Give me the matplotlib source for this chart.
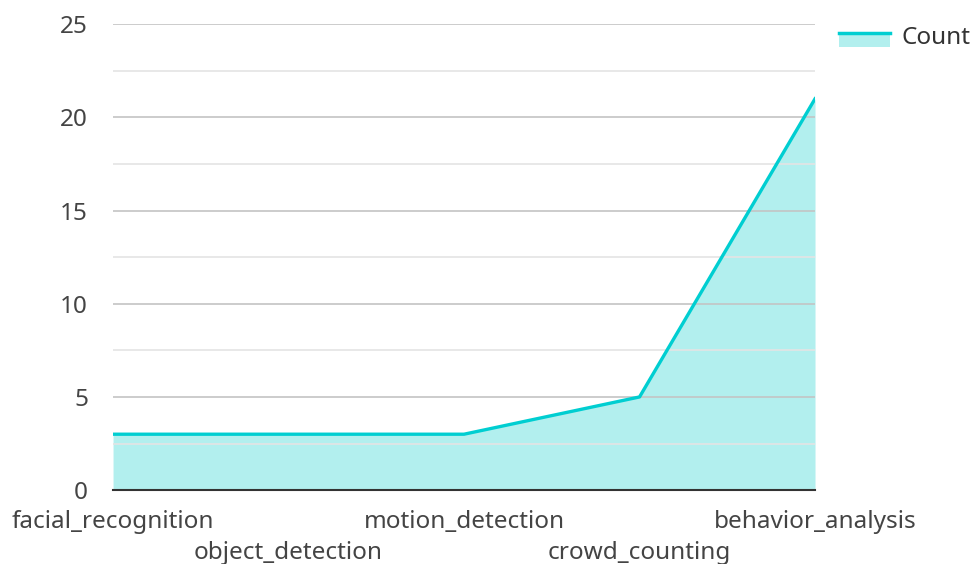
import matplotlib
matplotlib.use("Agg")
import matplotlib.pyplot as plt
from matplotlib.patches import Rectangle
from matplotlib.lines import Line2D
from matplotlib.legend_handler import HandlerBase

plt.rcParams['font.family'] = ['Noto Sans', 'DejaVu Sans']

categories = ['facial_recognition', 'object_detection', 'motion_detection',
              'crowd_counting', 'behavior_analysis']
counts = [3, 3, 3, 5, 21]

line_color = '#00CED1'
fill_color = '#B2EFEE'


class AreaHandler(HandlerBase):
    # filled box with the line along its top edge
    def create_artists(self, legend, orig_handle, xdescent, ydescent,
                       width, height, fontsize, trans):
        bottom = -ydescent - height * 0.15
        top = -ydescent + height * 0.62
        rect = Rectangle((-xdescent, bottom), width, top - bottom,
                         facecolor=fill_color, edgecolor='none', transform=trans)
        ln = Line2D([-xdescent, -xdescent + width], [top, top],
                    color=line_color, lw=2.5, transform=trans)
        return [rect, ln]


fig, ax = plt.subplots(figsize=(9.72, 5.64), dpi=100)
fig.subplots_adjust(left=0.1163, right=0.8385, top=0.957, bottom=0.131)

x = list(range(len(categories)))
ax.fill_between(x, counts, 0, color=fill_color, lw=0, zorder=1)
ax.plot(x, counts, color=line_color, lw=2.4, zorder=3)

ax.set_xlim(0, len(categories) - 1)
ax.set_ylim(0, 25)
ax.set_yticks([0, 5, 10, 15, 20, 25])
ax.set_yticks([2.5, 7.5, 12.5, 17.5, 22.5], minor=True)
ax.grid(axis='y', which='major', color='#c4c4c4', lw=1.2, zorder=2)
ax.grid(axis='y', which='minor', color='#e4e4e4', lw=1.2, zorder=2)
ax.set_axisbelow(False)

ax.set_xticks(x)
ax.set_xticklabels([c if i % 2 == 0 else '\n' + c for i, c in enumerate(categories)])
for lab in ax.get_xticklabels():
    lab.set_linespacing(1.43)

for s in ['left', 'right', 'top']:
    ax.spines[s].set_visible(False)
ax.spines['bottom'].set_color('#333333')
ax.spines['bottom'].set_linewidth(1.5)
ax.spines['bottom'].set_zorder(4)

ax.tick_params(axis='both', which='both', length=0, labelsize=17.5,
               labelcolor='#444444')
ax.tick_params(axis='y', pad=18)
ax.tick_params(axis='x', pad=14)

ax.legend([object()], ['Count'], handler_map={object: AreaHandler()},
          loc='upper right', bbox_to_anchor=(1.0155, 0.984),
          bbox_transform=fig.transFigure, frameon=False,
          fontsize=17.5, handlelength=2.1, handletextpad=0.45,
          borderpad=0.2, labelcolor='#333333')

fig.savefig('out.png', dpi=100)
